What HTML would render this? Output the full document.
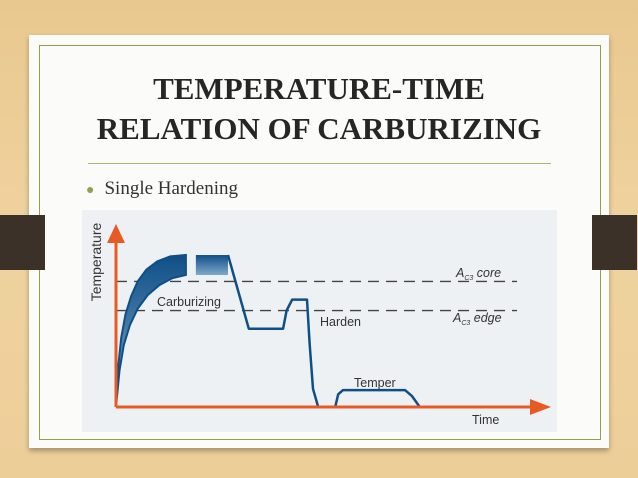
<!DOCTYPE html>
<html><head><meta charset="utf-8"><style>
body{margin:0;width:638px;height:478px;overflow:hidden;background:linear-gradient(180deg,#e9c88e,#efd3a0 50%,#ecce98);font-family:"Liberation Sans",sans-serif;position:relative}
.card{position:absolute;left:29px;top:35px;width:580px;height:413px;background:#fbfbfa;box-shadow:0 3px 5px rgba(0,0,0,.3)}
.border{position:absolute;left:39px;top:45px;width:560px;height:393px;border:1px solid #8fa24a}
.title{position:absolute;left:40px;width:558px;top:69px;text-align:center;font-family:"Liberation Serif",serif;font-weight:bold;font-size:31px;line-height:40px;color:#262626}
.rule{position:absolute;left:88px;top:163px;width:463px;height:1px;background:#a9b86d}
.bullet{position:absolute;left:86px;top:178px;font-family:"Liberation Serif",serif;font-size:19px;color:#333}
.bullet span{color:#8fa24a;font-size:14px;margin-right:10px}
.tab{position:absolute;top:215px;height:55px;width:45px;background:#3b3129}
</style></head><body>
<div class="card"></div>
<div class="border"></div>
<div class="title">TEMPERATURE-TIME<br>RELATION OF CARBURIZING</div>
<div class="rule"></div>
<div class="bullet"><span>●</span>Single Hardening</div>
<div class="tab" style="left:0"></div>
<div class="tab" style="left:592px"></div>
<svg id="chart" width="638" height="478" style="position:absolute;left:0;top:0">
<defs><linearGradient id="g" x1="0" y1="0" x2="0" y2="1"><stop offset="0" stop-color="#0f4f86"/><stop offset="1" stop-color="#7fa9cc"/></linearGradient></defs>
<rect x="82" y="210" width="475" height="222" fill="#eef1f4"/>
</svg>
<script>
const upperHeat=[[0,0],[0.5,22],[1.2,38],[2.2,51],[3.5,61],[5,69],[7,75.5],[9.5,80],[12.5,82.8],[16.1,83.5]];
const lowerHeat=[[0,0],[0.8,20],[1.8,34],[3.2,45],[5,54],[7.3,61.5],[10,67],[13,70.8],[16.1,72.5]];
const carbBlock=[18.4,25.8,72.5,83.5];
const hardenPath=[[25.8,83.5],[30.6,43],[38.5,43],[39.3,53],[40.6,59],[44,59],[44.6,35],[45.4,10],[46.6,0]];
const temperPath=[[50.5,0],[51.2,7],[52.3,9.3],[66.6,9.3],[68.2,6],[70,0]];
const refLines=[69,53];
const X=t=>116+t*4.34, Y=T=>407-T*1.82;
const svg=document.getElementById('chart'),NS='http://www.w3.org/2000/svg';
function mk(tag,a){const e=document.createElementNS(NS,tag);for(const k in a)e.setAttribute(k,a[k]);svg.appendChild(e);return e;}
const pts=a=>a.map(p=>X(p[0]).toFixed(1)+','+Y(p[1]).toFixed(1)).join(' ');
refLines.forEach((v,i)=>{const l=mk('line',{x1:116,x2:517,y1:Y(v),y2:Y(v),stroke:'#444','stroke-width':1.4,'stroke-dasharray':'11 7'});

});
const band=mk('polygon',{points:pts(upperHeat)+' '+pts(lowerHeat.slice().reverse()),fill:'url(#g)',stroke:'#0f4f86','stroke-width':2});


const blk=mk('rect',{x:X(carbBlock[0]),y:Y(carbBlock[3]),width:X(carbBlock[1])-X(carbBlock[0]),height:Y(carbBlock[2])-Y(carbBlock[3]),fill:'url(#g)'});


const h=mk('polyline',{points:pts(hardenPath),fill:'none',stroke:'#0f4f86','stroke-width':2.5,'stroke-linejoin':'round'});


const tp=mk('polyline',{points:pts(temperPath),fill:'none',stroke:'#0f4f86','stroke-width':2.5,'stroke-linejoin':'round'});


const ya=mk('line',{x1:116,y1:407,x2:116,y2:240,stroke:'#e85a24','stroke-width':3});


const yh=mk('polygon',{points:'116,224 107,243 125,243',fill:'#e85a24'});


const xa=mk('line',{x1:116,y1:407,x2:532,y2:407,stroke:'#e85a24','stroke-width':3});


const xh=mk('polygon',{points:'551,407 530,399 530,415',fill:'#e85a24'});


function txt(s,x,y,name,extra){const e=mk('text',Object.assign({x:x,y:y,'font-size':12.5,fill:'#333','font-family':'Liberation Sans, sans-serif'},extra||{}));e.textContent=s;

return e;}
txt('Carburizing',157,306,'carburizing-label');
txt('Harden',320,326,'harden-label');
txt('Temper',354,387,'temper-label');
txt('Time',472,424,'x-axis-title');
txt('Temperature',0,0,'y-axis-title',{transform:'translate(101,262) rotate(-90)','text-anchor':'middle','font-size':14});
const c=txt('A',456,277,'ac3-core-label',{'font-style':'italic'});c.innerHTML='A<tspan font-size="7" dy="3">C3</tspan><tspan dy="-3"> core</tspan>';
const ed=txt('A',453,322,'ac3-edge-label',{'font-style':'italic'});ed.innerHTML='A<tspan font-size="7" dy="3">C3</tspan><tspan dy="-3"> edge</tspan>';
</script>
</body></html>
